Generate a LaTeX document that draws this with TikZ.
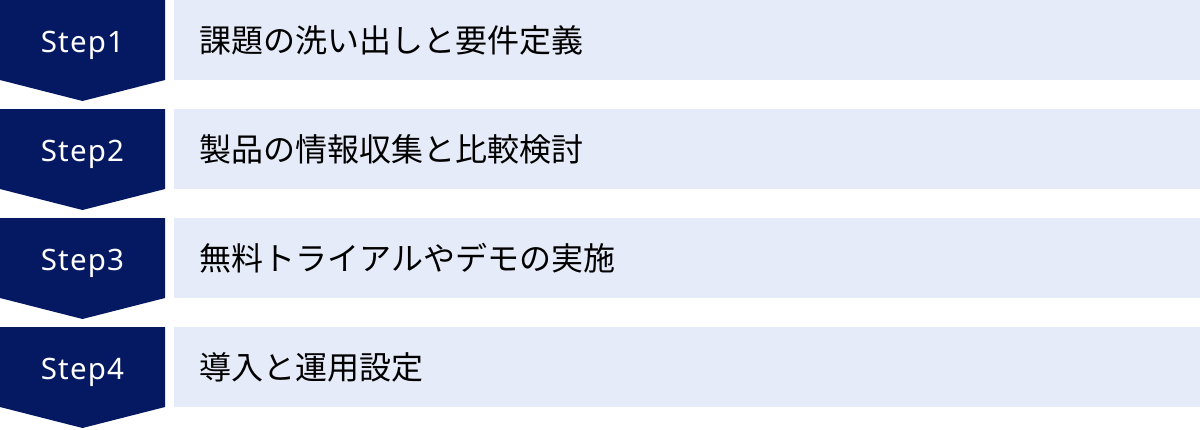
\documentclass[tikz,border=0pt]{standalone}
\usepackage{fontspec}
\setmainfont{Noto Sans}
\newfontfamily\stepfont[LetterSpace=4]{Noto Sans}
\newfontfamily\jp{Noto Sans CJK JP}
\definecolor{navy}{RGB}{5,25,98}
\definecolor{lightbox}{RGB}{229,235,248}
\begin{document}
\begin{tikzpicture}[x=1pt,y=-1pt,
  steplabel/.style={anchor=base,text=white,font=\stepfont\fontsize{29.5}{32}\selectfont,inner sep=0pt},
  tasklabel/.style={anchor=west,text=black,font=\jp\fontsize{32}{34}\selectfont,inner sep=0pt}]
\path[use as bounding box,fill=white] (0,0) rectangle (1200,429);
\foreach \i/\t in {0/課題の洗い出しと要件定義,1/製品の情報収集と比較検討,2/無料トライアルやデモの実施,3/導入と運用設定}{
  \pgfmathsetmacro{\yy}{\i*109}
  \fill[navy] (0,\yy) -- (165,\yy) -- (165,\yy+80) -- (82.5,\yy+101) -- (0,\yy+80) -- cycle;
  \fill[lightbox] (174,\yy) rectangle (1200,\yy+80);
  \pgfmathtruncatemacro{\n}{\i+1}
  \node[steplabel] (step\n) at (82.5,\yy+52.5) {Step\n};
  \node[tasklabel] (task\n) at (199.5,\yy+40) {\t};
}
\end{tikzpicture}
\end{document}
